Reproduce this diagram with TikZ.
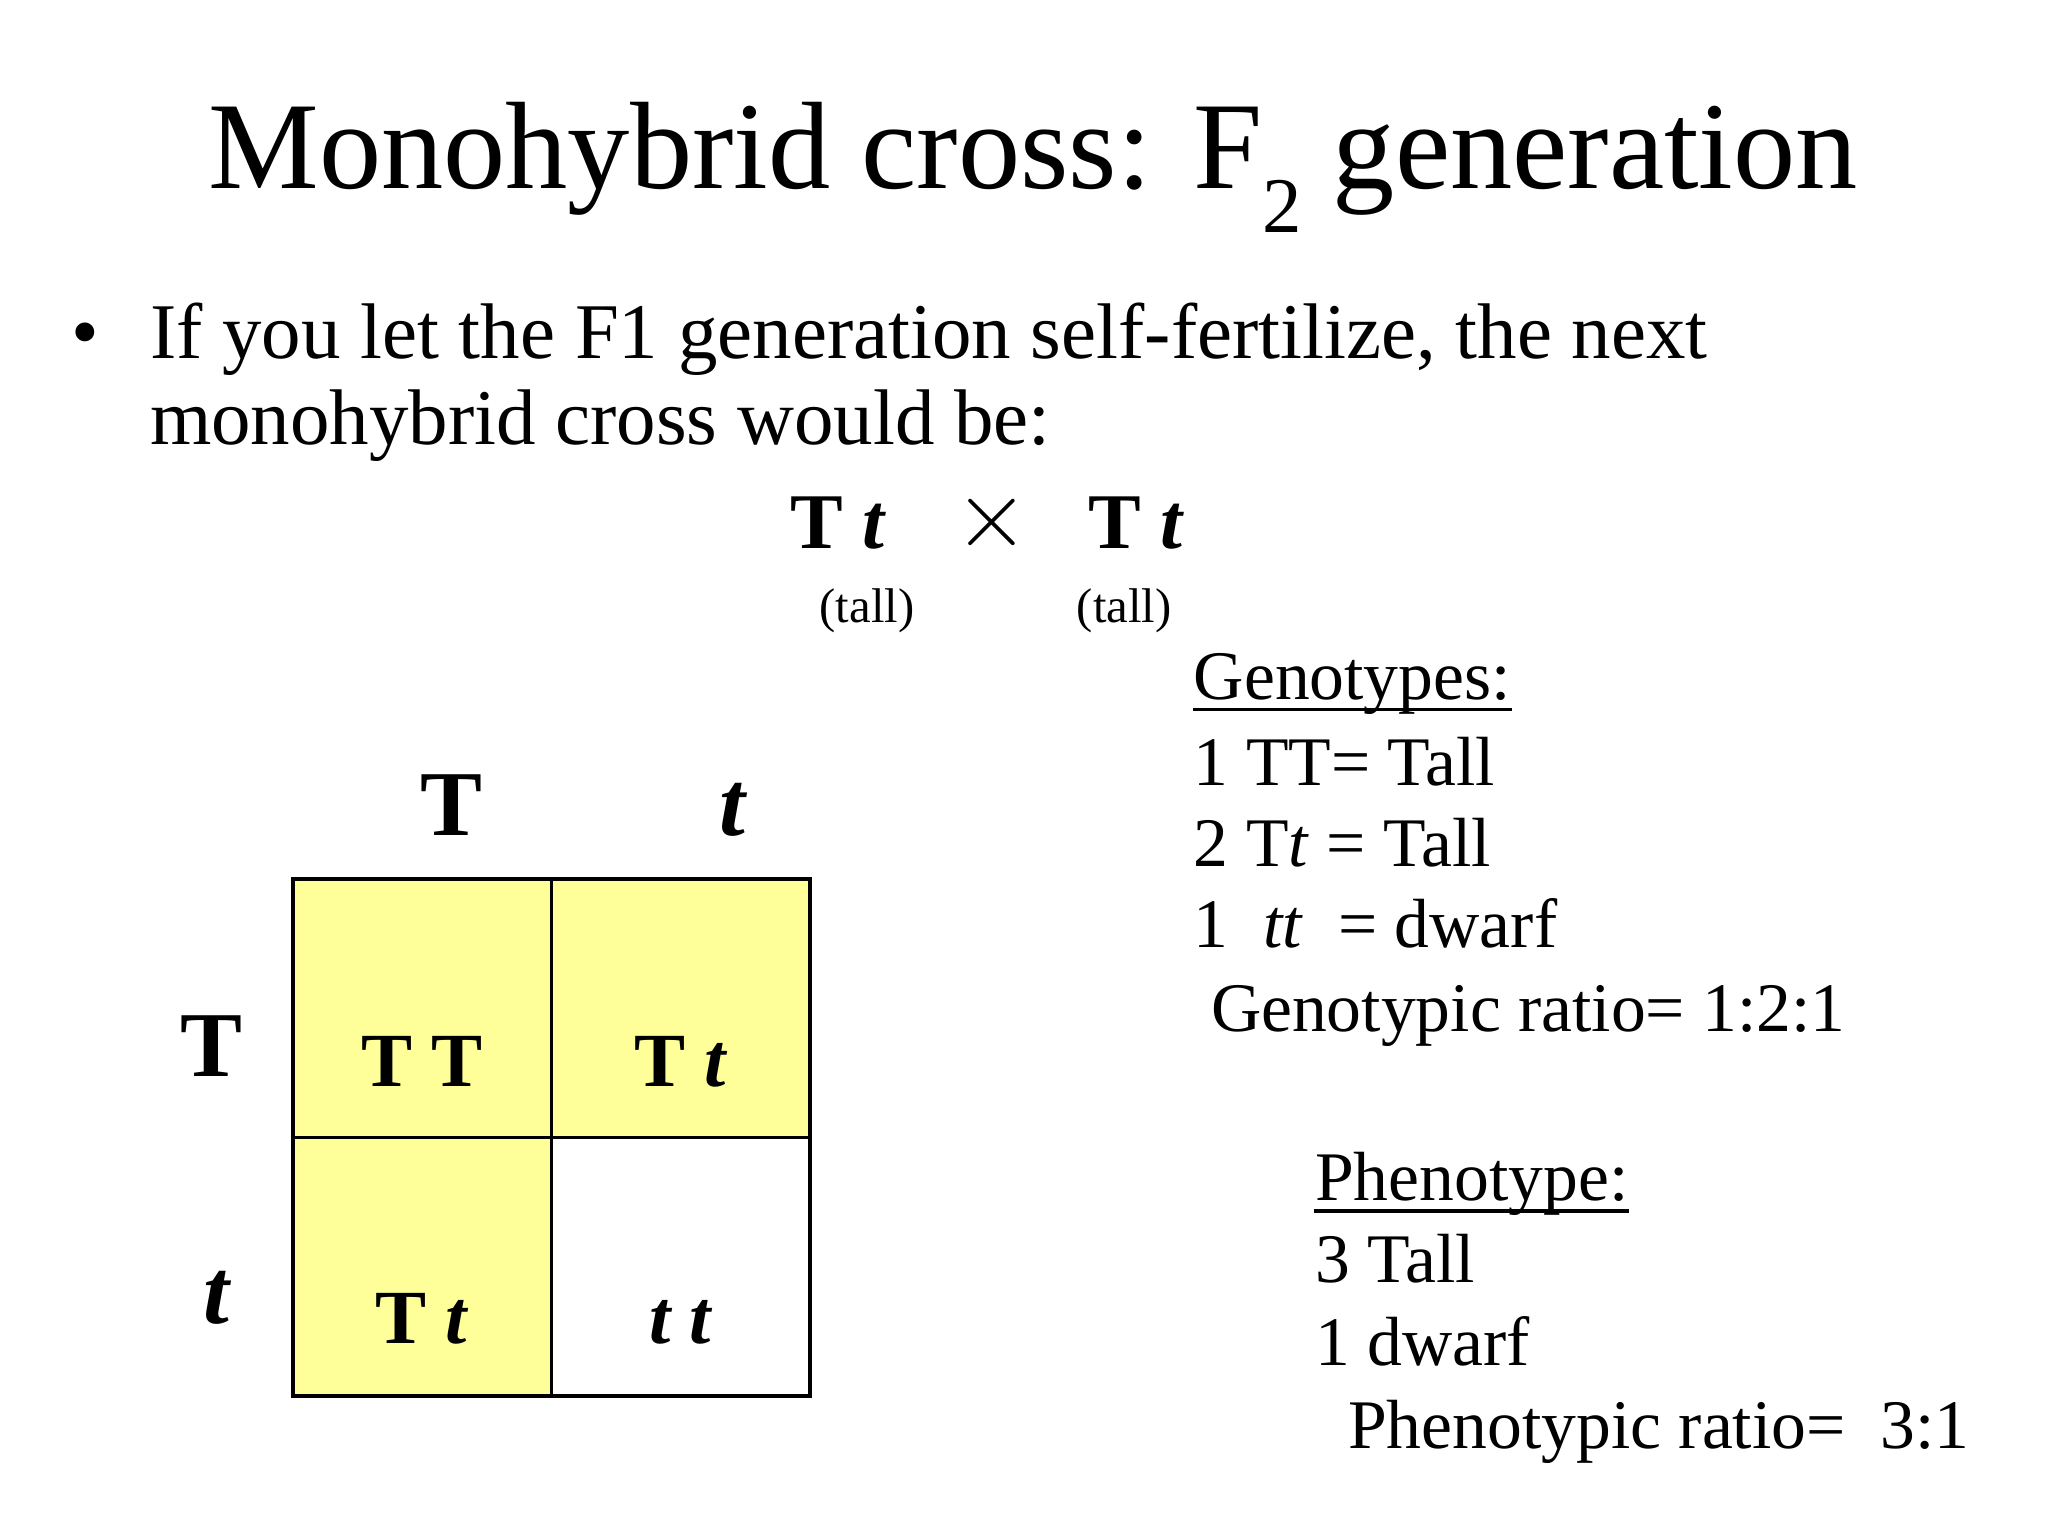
\documentclass[tikz,border=0pt]{standalone}
\usepackage{fontspec}
\setmainfont{Liberation Serif}
\begin{document}
\begin{tikzpicture}[x=0.01cm,y=-0.01cm,
  bl/.style={anchor=base west,inner sep=0pt},
  bc/.style={anchor=base,inner sep=0pt},
  body/.style={font=\fontsize{17}{19}\selectfont},
  gen/.style={font=\fontsize{15}{17}\selectfont},
  big/.style={font=\fontsize{20}{22}\selectfont\bfseries},
  cb/.style={font=\fontsize{16.5}{18}\selectfont\bfseries},
  cell/.style={draw=black,line width=0.8pt}]
\useasboundingbox (0,0) rectangle (1552,1164);
\node[bc,font=\fontsize{26.8}{30}\selectfont] (title) at (783,143) {Monohybrid cross: F\raisebox{-0.35em}{\fontsize{17}{20}\selectfont 2} generation};
\node[bc,body] (bul) at (65,272) {\textbullet};
\node[bl,body] (l1) at (113,272) {If you let the F1 generation self-fertilize, the next};
\node[bl,body] (l2) at (113,337) {monohybrid cross would be:};
\node[bl,font=\fontsize{17}{20}\selectfont\bfseries] (p1) at (598,416) {T \textit{t}};
\node[bc,font=\fontsize{20}{24}\selectfont] (x) at (752,414) {$\times$};
\node[bl,font=\fontsize{17}{20}\selectfont\bfseries] (p2) at (824,416) {T \textit{t}};
\node[bc,font=\fontsize{10.5}{12}\selectfont] (t1) at (657,472) {(tall)};
\node[bc,font=\fontsize{10.5}{12}\selectfont] (t2) at (852,472) {(tall)};
% grid
\fill[fill={rgb,255:red,255;green,255;blue,153}] (222,666) rectangle (418,862);
\fill[fill={rgb,255:red,255;green,255;blue,153}] (418,666) rectangle (614,862);
\fill[fill={rgb,255:red,255;green,255;blue,153}] (222,862) rectangle (418,1058);
\draw[cell] (222,666) rectangle (614,1058);
\draw[cell] (418,666) -- (418,1058);
\draw[cell] (222,862) -- (614,862);
\node[bc,big] (cT) at (342,633) {T};
\node[bc,big] (ct) at (556,633) {\textit{t}};
\node[bc,big] (rT) at (160,816) {T};
\node[bc,big] (rt) at (165,1003) {\textit{t}};
\node[bc,cb] (c11) at (320,823) {T T};
\node[bc,cb] (c12) at (516,823) {T \textit{t}};
\node[bc,cb] (c21) at (320,1018) {T \textit{t}};
\node[bc,cb] (c22) at (516,1018) {\textit{t t}};
% genotypes
\node[bl,gen] (g0) at (904,530) {Genotypes:};
\draw[line width=0.8pt] ([yshift=-2.2pt]g0.base west) -- ([yshift=-2.2pt]g0.base east);
\node[bl,gen] (g1) at (904,595) {1 TT= Tall};
\node[bl,gen] (g2) at (904,657) {2 T\textit{t} = Tall};
\node[bl,gen] (g3) at (904,718) {1\enspace\textit{tt}\enspace= dwarf};
\node[bl,gen] (g4) at (917,782) {Genotypic ratio= 1:2:1};
\node[bl,gen] (h0) at (996,910) {Phenotype:};
\draw[line width=0.8pt] ([yshift=-2.2pt]h0.base west) -- ([yshift=-2.2pt]h0.base east);
\node[bl,gen] (h1) at (996,972) {3 Tall};
\node[bl,gen] (h2) at (996,1035) {1 dwarf};
\node[bl,gen] (h3) at (1021,1098) {Phenotypic ratio=\enspace3:1};
\end{tikzpicture}
\end{document}
